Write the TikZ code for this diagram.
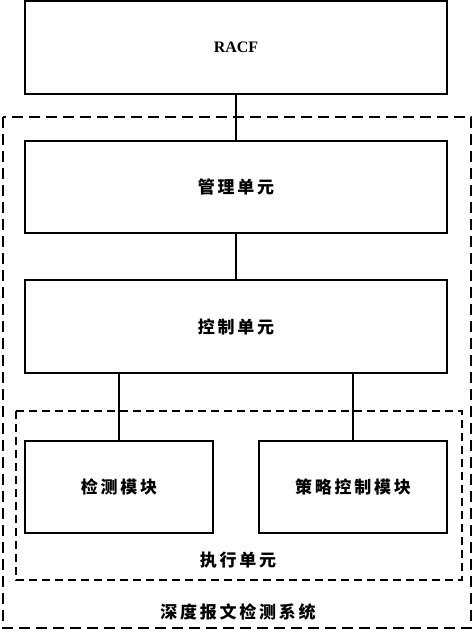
\documentclass[tikz,border=0pt]{standalone}
\usepackage{fontspec}
\setmainfont{Liberation Serif}
\newfontfamily\cjk[LetterSpace=16]{Noto Sans CJK SC Black}
\begin{document}
\begin{tikzpicture}[x=1pt,y=1pt,
  box/.style={draw=black, line width=2pt, fill=white, inner sep=0pt},
  conn/.style={draw=black, line width=1.6pt},
  lbl/.style={font=\cjk\fontsize{17}{17}\selectfont, inner sep=0pt},
  outerdash/.style={draw=black, line width=2.2pt, dash pattern=on 11pt off 6pt},
  innerdash/.style={draw=black, line width=1.5pt, dash pattern=on 8pt off 5pt}]
\useasboundingbox[fill=white] (0,0) rectangle (474,-632);
% dashed containers
\draw[outerdash] (3,-117) rectangle (471,-628);
\draw[innerdash] (16,-411) rectangle (462,-580);
% boxes
\node[box, minimum width=422pt, minimum height=92.5pt, font=\bfseries\fontsize{16}{16}\selectfont] (racf) at (236,-47.5) {RACF};
\node[box, minimum width=422pt, minimum height=92pt, lbl] (gl) at (236,-187) {管理单元};
\node[box, minimum width=422pt, minimum height=93pt, lbl] (kz) at (236,-326.5) {控制单元};
\node[box, minimum width=188pt, minimum height=92pt, lbl] (jc) at (119,-487) {检测模块};
\node[box, minimum width=188pt, minimum height=92pt, lbl] (cl) at (353,-487) {策略控制模块};
% labels
\node[lbl] (zx) at (238,-560) {执行单元};
\node[lbl] (sd) at (238,-612) {深度报文检测系统};
% connectors
\draw[conn] (racf.south) -- (gl.north);
\draw[conn] (gl.south) -- (kz.north);
\draw[conn] (kz.south -| jc.north) -- (jc.north);
\draw[conn] (kz.south -| cl.north) -- (cl.north);
\end{tikzpicture}
\end{document}
